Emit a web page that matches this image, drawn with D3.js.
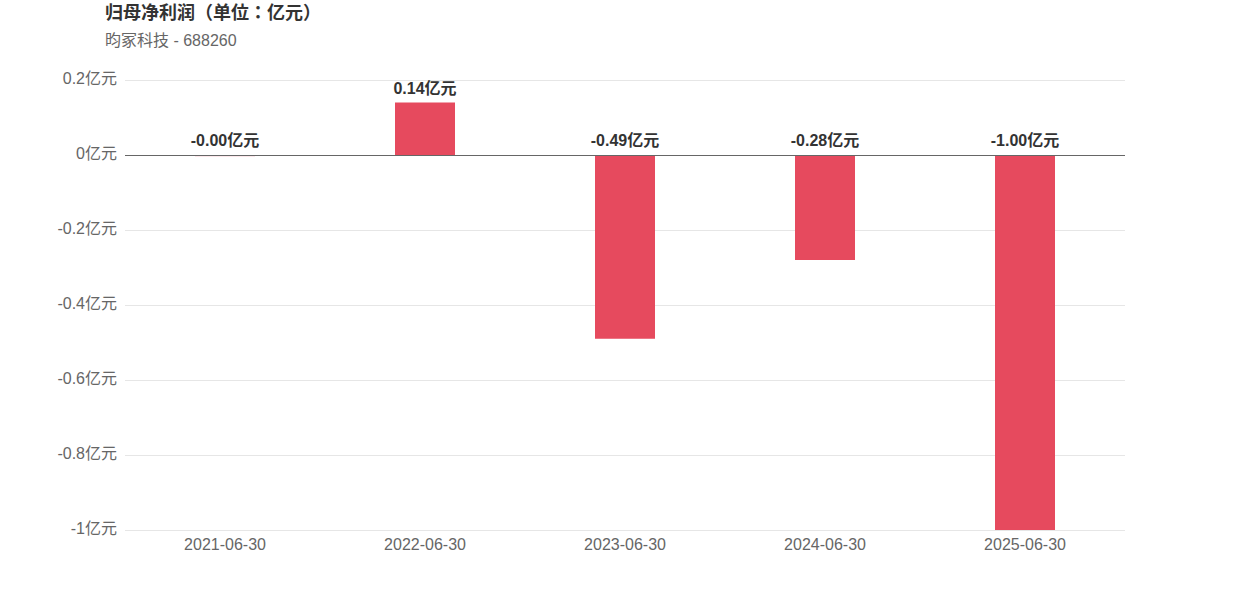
<!DOCTYPE html>
<html><head><meta charset="utf-8">
<script src="https://cdn.jsdelivr.net/npm/d3@7/dist/d3.min.js"></script>
<style>body{margin:0;background:#fff;}svg{display:block;font-family:"Liberation Sans",Arial,"Noto Sans CJK SC",sans-serif;}</style>
</head><body>
<svg id="c" width="1250" height="600"></svg>
<script>
const categories = ["2021-06-30","2022-06-30","2023-06-30","2024-06-30","2025-06-30"];
const values = [-0.003, 0.14, -0.49, -0.28, -1.00];
const labels = ["-0.00亿元","0.14亿元","-0.49亿元","-0.28亿元","-1.00亿元"];
const yTicks = [0.2, 0, -0.2, -0.4, -0.6, -0.8, -1];
const title = "归母净利润（单位：亿元）";
const subtitle = "昀冢科技 - 688260";

(function(){
const svg = d3.select("#c");
const mL = 125, mR = 1125, mT = 80, mB = 530;
const x = d3.scaleBand().domain(categories).range([mL, mR]);
const y = d3.scaleLinear().domain([-1, 0.2]).range([mB, mT]);
const fmt = d => String(+d.toFixed(2));

svg.append("text").attr("x",105).attr("y",19).attr("font-size",18).attr("font-weight","bold").attr("fill","#333")
  .style("font-family",'"Liberation Sans",Arial,"Noto Sans CJK JP",sans-serif').text(title);
svg.append("text").attr("x",105).attr("y",46).attr("font-size",16).attr("fill","#666").text(subtitle);

// grid
svg.append("g").selectAll("line").data(yTicks.filter(d=>d!==0)).join("line")
  .attr("x1",mL).attr("x2",mR).attr("y1",d=>y(d)+0.5).attr("y2",d=>y(d)+0.5)
  .attr("stroke","#e6e6e6").attr("stroke-width",1);

// y labels
svg.append("g").selectAll("text").data(yTicks).join("text")
  .attr("x",117).attr("y",d=>y(d)-2).attr("dy","0.35em").attr("text-anchor","end")
  .attr("font-size",16).attr("fill","#666").text(d=>fmt(d)+"亿元");

// bars
const bw = 60;
svg.append("g").selectAll("rect").data(values).join("rect")
  .attr("x",(d,i)=>x(categories[i])+x.bandwidth()/2-bw/2).attr("width",bw)
  .attr("y",d=>y(Math.max(0,d))).attr("height",d=>Math.abs(y(d)-y(0)))
  .attr("fill","#e64a5e");

// zero line
svg.append("line").attr("x1",mL).attr("x2",mR).attr("y1",y(0)+0.5).attr("y2",y(0)+0.5)
  .attr("stroke","#666").attr("stroke-width",1);

// value labels
svg.append("g").selectAll("text").data(values).join("text")
  .attr("x",(d,i)=>x(categories[i])+x.bandwidth()/2).attr("y",d=>y(Math.max(0,d))-9)
  .attr("text-anchor","middle").attr("font-size",16).attr("font-weight","bold").attr("fill","#333")
  .text((d,i)=>labels[i]);

// x labels
svg.append("g").selectAll("text").data(categories).join("text")
  .attr("x",d=>x(d)+x.bandwidth()/2).attr("y",550).attr("text-anchor","middle")
  .attr("font-size",16).attr("fill","#666").text(d=>d);
})();
</script>
</body></html>
